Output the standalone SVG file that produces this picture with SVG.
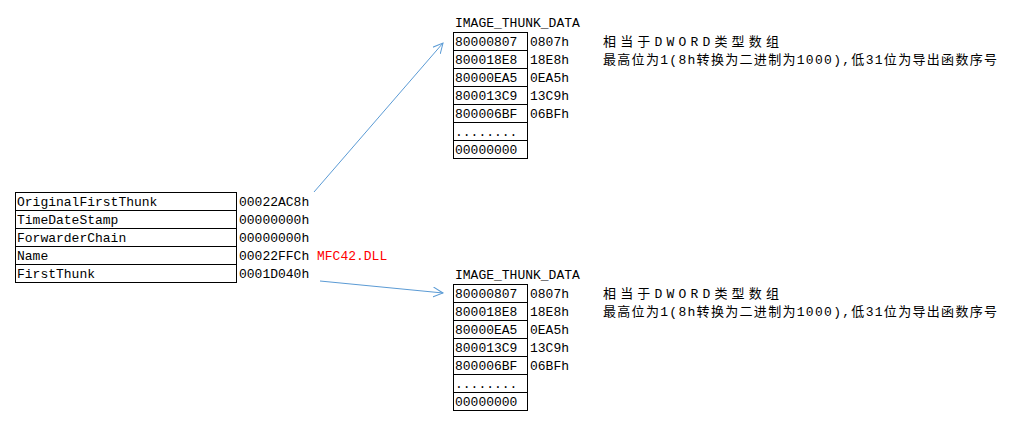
<svg xmlns="http://www.w3.org/2000/svg" width="1024" height="428" viewBox="0 0 1024 428">
<style>
.m{font-family:"Liberation Mono",monospace;font-size:13px;fill:#000}
.c{font-family:"Liberation Mono","Noto Sans CJK SC",monospace;font-size:13px;fill:#000}
.b{fill:#fff;stroke:#000;stroke-width:1}
.r{fill:#ff0000}
</style>
<defs>
<marker id="a" markerWidth="12" markerHeight="12" refX="10" refY="5" orient="auto" markerUnits="userSpaceOnUse">
<path d="M0,0 L10,5 L0,10" fill="none" stroke="#5b9bd5" stroke-width="1"/>
</marker>
</defs>
<rect width="1024" height="428" fill="#fff"/>
<g id="descriptor">
<rect class="b" x="15.5" y="192.5" width="221" height="18"/>
<rect class="b" x="15.5" y="210.5" width="221" height="18"/>
<rect class="b" x="15.5" y="228.5" width="221" height="18"/>
<rect class="b" x="15.5" y="246.5" width="221" height="18"/>
<rect class="b" x="15.5" y="264.5" width="221" height="18"/>
<text class="m" x="17" y="206">OriginalFirstThunk</text>
<text class="m" x="17" y="224">TimeDateStamp</text>
<text class="m" x="17" y="242">ForwarderChain</text>
<text class="m" x="17" y="260">Name</text>
<text class="m" x="17" y="278">FirstThunk</text>
<text class="m" x="239" y="206">00022AC8h</text>
<text class="m" x="239" y="224">00000000h</text>
<text class="m" x="239" y="242">00000000h</text>
<text class="m" x="239" y="260">00022FFCh <tspan class="r">MFC42.DLL</tspan></text>
<text class="m" x="239" y="278">0001D040h</text>
</g>
<g id="thunk1">
<text class="m" x="455" y="27">IMAGE_THUNK_DATA</text>
<rect class="b" x="453.5" y="32.5" width="74" height="18"/>
<rect class="b" x="453.5" y="50.5" width="74" height="18"/>
<rect class="b" x="453.5" y="68.5" width="74" height="18"/>
<rect class="b" x="453.5" y="86.5" width="74" height="18"/>
<rect class="b" x="453.5" y="104.5" width="74" height="18"/>
<rect class="b" x="453.5" y="122.5" width="74" height="18"/>
<rect class="b" x="453.5" y="140.5" width="74" height="18"/>
<text class="m" x="455" y="46">80000807</text><text class="m" x="530" y="46">0807h</text>
<text class="m" x="455" y="64">800018E8</text><text class="m" x="530" y="64">18E8h</text>
<text class="m" x="455" y="82">80000EA5</text><text class="m" x="530" y="82">0EA5h</text>
<text class="m" x="455" y="100">800013C9</text><text class="m" x="530" y="100">13C9h</text>
<text class="m" x="455" y="118">800006BF</text><text class="m" x="530" y="118">06BFh</text>
<text class="m" x="455" y="136">........</text>
<text class="m" x="455" y="154">00000000</text>
<text class="c" x="603" y="46" textLength="176" lengthAdjust="spacing">相当于DWORD类型数组</text>
<text class="c" x="603" y="64" textLength="394" lengthAdjust="spacing">最高位为1(8h转换为二进制为1000),低31位为导出函数序号</text>
</g>
<g id="thunk2">
<text class="m" x="455" y="279">IMAGE_THUNK_DATA</text>
<rect class="b" x="453.5" y="284.5" width="74" height="18"/>
<rect class="b" x="453.5" y="302.5" width="74" height="18"/>
<rect class="b" x="453.5" y="320.5" width="74" height="18"/>
<rect class="b" x="453.5" y="338.5" width="74" height="18"/>
<rect class="b" x="453.5" y="356.5" width="74" height="18"/>
<rect class="b" x="453.5" y="374.5" width="74" height="18"/>
<rect class="b" x="453.5" y="392.5" width="74" height="18"/>
<text class="m" x="455" y="298">80000807</text><text class="m" x="530" y="298">0807h</text>
<text class="m" x="455" y="316">800018E8</text><text class="m" x="530" y="316">18E8h</text>
<text class="m" x="455" y="334">80000EA5</text><text class="m" x="530" y="334">0EA5h</text>
<text class="m" x="455" y="352">800013C9</text><text class="m" x="530" y="352">13C9h</text>
<text class="m" x="455" y="370">800006BF</text><text class="m" x="530" y="370">06BFh</text>
<text class="m" x="455" y="388">........</text>
<text class="m" x="455" y="406">00000000</text>
<text class="c" x="603" y="298" textLength="176" lengthAdjust="spacing">相当于DWORD类型数组</text>
<text class="c" x="603" y="316" textLength="394" lengthAdjust="spacing">最高位为1(8h转换为二进制为1000),低31位为导出函数序号</text>
</g>
<g id="connectors" stroke="#5b9bd5" stroke-width="1" fill="none">
<line x1="314" y1="192" x2="443" y2="43" marker-end="url(#a)"/>
<line x1="320" y1="281" x2="443" y2="293" marker-end="url(#a)"/>
</g>
</svg>
